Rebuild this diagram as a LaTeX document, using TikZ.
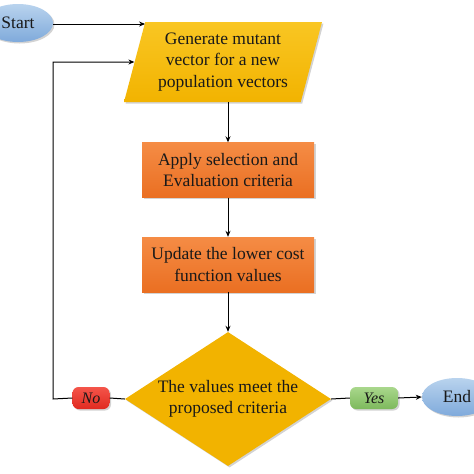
\documentclass[tikz,border=0pt]{standalone}
\usepackage{fontspec}
\setmainfont{Liberation Serif}
\usetikzlibrary{shapes.geometric,shadows,arrows.meta}
\definecolor{goldA}{HTML}{F9C623}
\definecolor{goldB}{HTML}{F2B300}
\definecolor{orA}{HTML}{F58C45}
\definecolor{orB}{HTML}{EA6F22}
\definecolor{blA}{HTML}{B9D3EE}
\definecolor{blB}{HTML}{7FAADB}
\definecolor{redA}{HTML}{F4554A}
\definecolor{redB}{HTML}{E02A20}
\definecolor{grA}{HTML}{A9D78C}
\definecolor{grB}{HTML}{7DB95C}
\tikzset{
  txt/.style={font=\fontsize{17.5}{21.5}\selectfont, align=center, text=black!90},
  shad/.style={drop shadow={shadow xshift=1.5pt,shadow yshift=-1.5pt,opacity=0.35}},
  term/.style={ellipse, txt, shad, top color=blA, bottom color=blB, minimum width=70pt, minimum height=38pt, inner sep=0pt},
  procbox/.style={rectangle, txt, shad, top color=orA, bottom color=orB, minimum width=172pt, minimum height=55pt, inner sep=0pt},
  para/.style={trapezium, trapezium left angle=70, trapezium right angle=110, trapezium stretches body, txt, shad, top color=goldA, bottom color=goldB, minimum width=198pt, minimum height=80pt, inner sep=0pt},
  decide/.style={diamond, txt, shad, fill=goldB, minimum width=206pt, minimum height=134pt, inner sep=0pt, aspect=1.54},
  tag/.style={rounded corners=6pt, txt, shad, font=\fontsize{16}{19}\selectfont\itshape, minimum height=22pt, inner sep=0pt},
  conn/.style={draw=black, line width=1pt},
  arr/.style={conn, -{Stealth[length=6pt,width=5pt]}}
}
\begin{document}
\begin{tikzpicture}[x=1pt,y=-1pt]
\useasboundingbox (0,0) rectangle (474,474);
\node[term] (start) at (18,23) {Start};
\node[para] (gen) at (223,62) {Generate mutant\\vector for a new\\population vectors};
\node[procbox] (sel) at (228,170) {Apply selection and\\Evaluation criteria};
\node[procbox] (upd) at (228,264.5) {Update the lower cost\\function values};
\node[decide] (dec) at (228,399) {The values meet the\\proposed criteria};
\node[tag, top color=redA, bottom color=redB, minimum width=37pt] (no) at (91,398) {No};
\node[tag, top color=grA, bottom color=grB, minimum width=48pt] (yes) at (374,398) {Yes};
\node[term] (end) at (457,397) {End};
\coordinate (loopcorner) at (53,399);
\coordinate (looptop) at (53,62);
\draw[arr] (start.east |- 0,24) -- (gen.top left corner |- 0,24);
\draw[arr] (gen.south -| sel.north) -- (sel.north);
\draw[arr] (sel) -- (upd);
\draw[arr] (upd) -- (dec);
\draw[conn] (dec.west) -- (no.east);
\draw[arr] (no.west) -- (loopcorner) -- (looptop) -- (gen.west);
\draw[conn] (dec.east) -- (yes.west);
\draw[arr] (yes.east) -- (end.west);
\end{tikzpicture}
\end{document}
